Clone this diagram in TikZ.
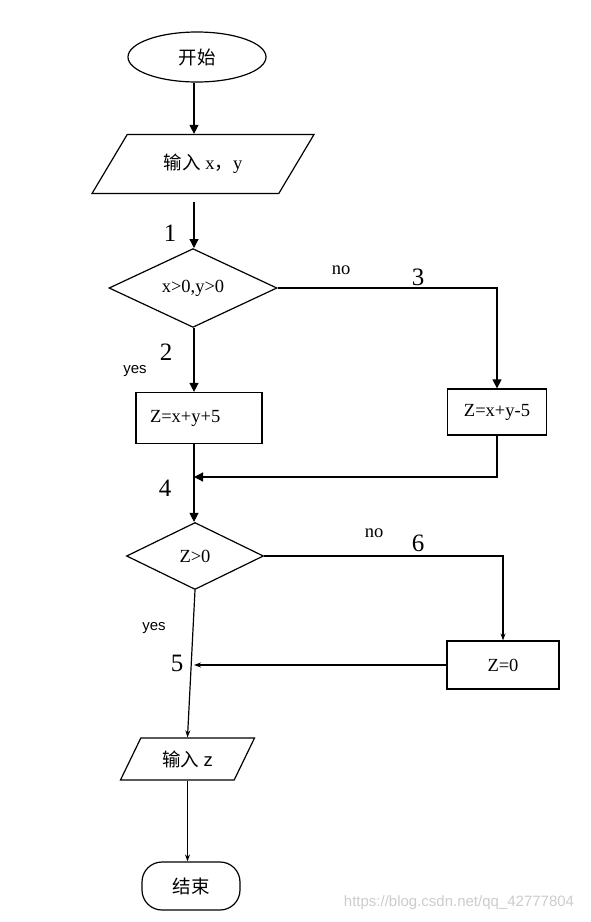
\documentclass[tikz,border=0pt]{standalone}
\usepackage{fontspec}
\setmainfont{Liberation Serif}
\newfontfamily\cjk{Noto Sans CJK SC}
\newfontfamily\arial{Liberation Sans}
\usetikzlibrary{shapes.geometric,arrows.meta}

\begin{document}
\begin{tikzpicture}[x=1pt,y=-1pt,line width=1.2pt,
    txt/.style={font=\fontsize{18.5}{21}\selectfont},
    num/.style={font=\fontsize{25}{28}\selectfont},
    lab/.style={font=\arial\fontsize{15}{18}\selectfont},
    startstop/.style={draw,ellipse,inner sep=0pt,txt},
    io/.style={draw,trapezium,trapezium stretches=true,inner sep=0pt,txt},
    decision/.style={draw,diamond,inner sep=0pt,txt},
    process/.style={draw,rectangle,inner sep=0pt,txt},
    arr/.style={-{Triangle[length=9pt,width=9pt]}},
    thinarr/.style={-{Stealth[length=7pt,width=5pt]}}]
    \useasboundingbox (0,0) rectangle (590,922);
    \coordinate (axis) at (194,0);
    \node[startstop,minimum width=138pt,minimum height=50pt] (s) at (197,57) {{\cjk 开始}};
    \node[io,trapezium left angle=47,trapezium right angle=133,minimum width=222pt,minimum height=59pt] (p1) at (203,164) {{\cjk 输入} x{\cjk ，}y};
    \node[decision,minimum width=168pt,minimum height=76pt] (d1) at (193,288) {x>0,y>0};
    \node[process,minimum width=126pt,minimum height=51pt,inner xsep=14pt,text width=98pt,align=left] (b1) at (199,418) {Z=x+y+5};
    \node[process,minimum width=99pt,minimum height=46pt] (b2) at (497,412) {Z=x+y-5};
    \node[decision,minimum width=137pt,minimum height=67pt] (d2) at (195,556) {Z>0};
    \node[process,minimum width=112pt,minimum height=48pt] (b3) at (503,665) {Z=0};
    \node[io,trapezium left angle=57,trapezium right angle=123,minimum width=135pt,minimum height=42pt] (p2) at (187.5,759) {{\cjk 输入} {\arial z}};
    \node[process,rounded corners=20pt,minimum width=98pt,minimum height=48pt] (e) at (191,886) {{\cjk 结束}};
    \coordinate (j1) at (194,477);
    \coordinate (j2) at (194,668);
    \draw[arr] (s.south -| axis) -- (p1.north -| axis);
    \draw[arr,shorten <=8pt] (p1.south -| axis) -- (d1.north -| axis);
    \draw[arr] (d1.south -| axis) -- (b1.north -| axis);
    \draw[arr] (d1.east) -| (b2.north);
    \draw[arr] (b2.south) |- (j1);
    \draw[arr] (b1.south -| axis) -- (d2.north -| axis);
    \draw[thinarr] (d2.east) -| (b3.north);
    \draw[thinarr] (b3.west) -- (b3.west -| j2);
    \draw[thinarr] (d2.south) -- (p2.north);
    \draw[thinarr] (p2.south) -- (p2.south |- e.north);
    \node[num] (n1) at (170,233) {1};
    \node[num] (n2) at (166,352) {2};
    \node[num] (n3) at (418,277) {3};
    \node[num] (n4) at (165,488) {4};
    \node[num] (n5) at (177,663) {5};
    \node[num] (n6) at (418,543) {6};
    \node[txt] (no1) at (341,270) {no};
    \node[txt] (no2) at (374,533) {no};
    \node[lab] (yes1) at (135,371) {yes};
    \node[lab] (yes2) at (154,628) {yes};
    \node[font=\arial\fontsize{15}{18}\selectfont,text=gray!40] (wm) at (459,903) {https://blog.csdn.net/qq\_42777804};
\end{tikzpicture}
\end{document}
